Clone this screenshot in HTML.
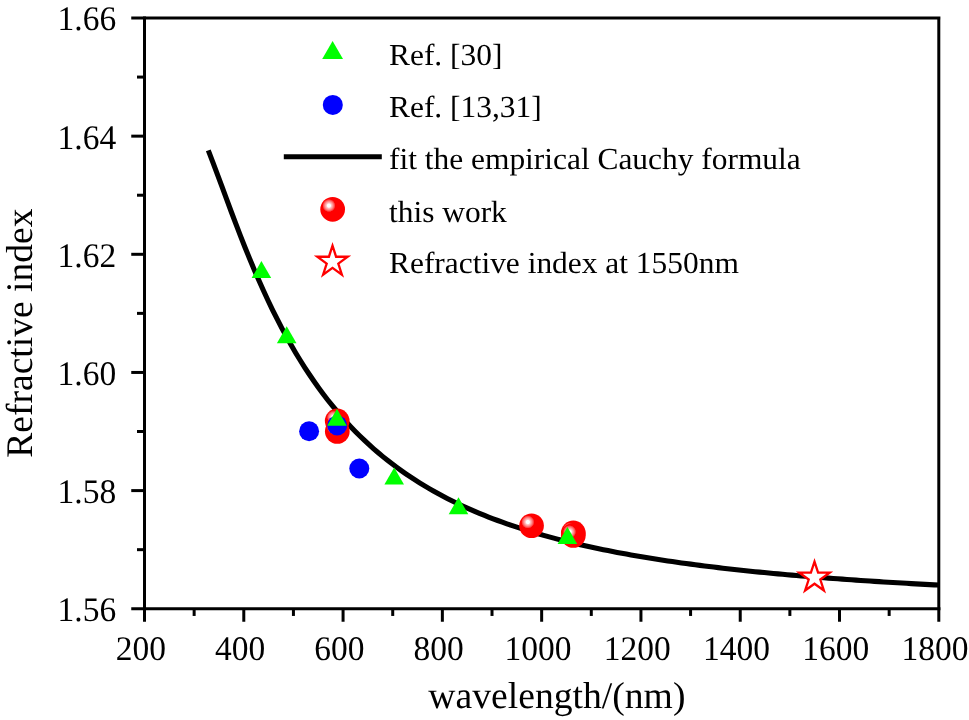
<!DOCTYPE html>
<html><head><meta charset="utf-8"><title>Refractive index</title>
<style>
html,body{margin:0;padding:0;background:#fff;}
svg{display:block;}
text{font-family:"Liberation Serif","Times New Roman",serif;text-rendering:geometricPrecision;}
</style></head><body>
<svg width="969" height="720" viewBox="0 0 969 720">
<defs>
<radialGradient id="sph" gradientUnits="objectBoundingBox" cx="0.35" cy="0.35" r="0.26" fx="0.35" fy="0.35">
<stop offset="0" stop-color="#ffffff"/>
<stop offset="0.25" stop-color="#ffffff"/>
<stop offset="0.4" stop-color="#ffc4c4"/>
<stop offset="0.62" stop-color="#ff9090"/>
<stop offset="0.82" stop-color="#ff5858"/>
<stop offset="0.96" stop-color="#ff2020"/>
<stop offset="1" stop-color="#ff0000"/>
</radialGradient>
</defs>
<rect width="969" height="720" fill="#fff"/>
<g stroke="#000" stroke-width="3.0" fill="none" stroke-linecap="butt">
<path d="M131.25,18.0 H940.4 M131.25,608.75 H940.5999999999999 M144.5,16.3 V621.75 M938.8,16.5 V621.75"/>
<path d="M137.0,549.67 H144.5"/>
<path d="M131.25,490.60 H144.5"/>
<path d="M137.0,431.52 H144.5"/>
<path d="M131.25,372.45 H144.5"/>
<path d="M137.0,313.37 H144.5"/>
<path d="M131.25,254.30 H144.5"/>
<path d="M137.0,195.22 H144.5"/>
<path d="M131.25,136.15 H144.5"/>
<path d="M137.0,77.07 H144.5"/>
<path d="M194.14,608.75 V615.95"/>
<path d="M243.79,608.75 V621.75"/>
<path d="M293.43,608.75 V615.95"/>
<path d="M343.07,608.75 V621.75"/>
<path d="M392.72,608.75 V615.95"/>
<path d="M442.36,608.75 V621.75"/>
<path d="M492.01,608.75 V615.95"/>
<path d="M541.65,608.75 V621.75"/>
<path d="M591.29,608.75 V615.95"/>
<path d="M640.94,608.75 V621.75"/>
<path d="M690.58,608.75 V615.95"/>
<path d="M740.23,608.75 V621.75"/>
<path d="M789.87,608.75 V615.95"/>
<path d="M839.51,608.75 V621.75"/>
<path d="M889.16,608.75 V615.95"/>
</g>
<g font-size="33.5" fill="#000">
<text transform="translate(116.2,621.15) scale(1,1.03)" text-anchor="end">1.56</text>
<text transform="translate(116.2,503.00) scale(1,1.03)" text-anchor="end">1.58</text>
<text transform="translate(116.2,384.85) scale(1,1.03)" text-anchor="end">1.60</text>
<text transform="translate(116.2,266.70) scale(1,1.03)" text-anchor="end">1.62</text>
<text transform="translate(116.2,148.55) scale(1,1.03)" text-anchor="end">1.64</text>
<text transform="translate(116.2,30.40) scale(1,1.03)" text-anchor="end">1.66</text>
<text transform="translate(140.80,660.3) scale(1,1.03)" text-anchor="middle">200</text>
<text transform="translate(240.09,660.3) scale(1,1.03)" text-anchor="middle">400</text>
<text transform="translate(339.38,660.3) scale(1,1.03)" text-anchor="middle">600</text>
<text transform="translate(438.66,660.3) scale(1,1.03)" text-anchor="middle">800</text>
<text transform="translate(537.95,660.3) scale(1,1.03)" text-anchor="middle">1000</text>
<text transform="translate(637.24,660.3) scale(1,1.03)" text-anchor="middle">1200</text>
<text transform="translate(736.52,660.3) scale(1,1.03)" text-anchor="middle">1400</text>
<text transform="translate(835.81,660.3) scale(1,1.03)" text-anchor="middle">1600</text>
<text transform="translate(935.10,660.3) scale(1,1.03)" text-anchor="middle">1800</text>
</g>
<text x="428.3" y="707.7" font-size="37.65">wavelength/(nm)</text>
<text transform="translate(31.8,457.7) rotate(-90)" font-size="37.55">Refractive index</text>
<path d="M208.30,150.43 L212.89,162.32 L217.49,174.57 L222.08,186.99 L226.68,199.42 L231.27,211.76 L235.87,223.91 L240.46,235.82 L245.05,247.44 L249.65,258.75 L254.24,269.71 L258.84,280.33 L263.43,290.58 L268.03,300.48 L272.62,310.03 L277.22,319.22 L281.81,328.07 L286.40,336.59 L291.00,344.78 L295.59,352.66 L300.19,360.24 L304.78,367.52 L309.38,374.52 L313.97,381.25 L318.56,387.72 L323.16,393.95 L327.75,399.94 L332.35,405.70 L336.94,411.24 L341.54,416.57 L346.13,421.71 L350.72,426.65 L355.32,431.42 L359.91,436.01 L364.51,440.43 L369.10,444.69 L373.70,448.80 L378.29,452.77 L382.88,456.60 L387.48,460.29 L392.07,463.85 L396.67,467.30 L401.26,470.63 L405.86,473.84 L410.45,476.95 L415.05,479.95 L419.64,482.86 L424.23,485.67 L428.83,488.40 L433.42,491.03 L438.02,493.58 L442.61,496.06 L447.21,498.45 L451.80,500.77 L456.39,503.02 L460.99,505.21 L465.58,507.32 L470.18,509.38 L474.77,511.37 L479.37,513.31 L483.96,515.19 L488.55,517.01 L493.15,518.79 L497.74,520.51 L502.34,522.18 L506.93,523.81 L511.53,525.40 L516.12,526.94 L520.72,528.44 L525.31,529.89 L529.90,531.31 L534.50,532.70 L539.09,534.04 L543.69,535.35 L548.28,536.63 L552.88,537.87 L557.47,539.09 L562.06,540.27 L566.66,541.42 L571.25,542.55 L575.85,543.64 L580.44,544.71 L585.04,545.76 L589.63,546.77 L594.22,547.77 L598.82,548.74 L603.41,549.69 L608.01,550.61 L612.60,551.52 L617.20,552.40 L621.79,553.26 L626.38,554.11 L630.98,554.93 L635.57,555.74 L640.17,556.53 L644.76,557.30 L649.36,558.05 L653.95,558.79 L658.55,559.51 L663.14,560.22 L667.73,560.91 L672.33,561.59 L676.92,562.25 L681.52,562.90 L686.11,563.53 L690.71,564.15 L695.30,564.76 L699.89,565.36 L704.49,565.94 L709.08,566.52 L713.68,567.08 L718.27,567.63 L722.87,568.17 L727.46,568.70 L732.05,569.22 L736.65,569.73 L741.24,570.23 L745.84,570.72 L750.43,571.20 L755.03,571.67 L759.62,572.13 L764.22,572.58 L768.81,573.03 L773.40,573.47 L778.00,573.89 L782.59,574.32 L787.19,574.73 L791.78,575.14 L796.38,575.53 L800.97,575.93 L805.56,576.31 L810.16,576.69 L814.75,577.06 L819.35,577.43 L823.94,577.79 L828.54,578.14 L833.13,578.49 L837.72,578.83 L842.32,579.16 L846.91,579.49 L851.51,579.81 L856.10,580.13 L860.70,580.45 L865.29,580.75 L869.88,581.06 L874.48,581.36 L879.07,581.65 L883.67,581.94 L888.26,582.22 L892.86,582.50 L897.45,582.78 L902.05,583.05 L906.64,583.31 L911.23,583.58 L915.83,583.83 L920.42,584.09 L925.02,584.34 L929.61,584.59 L934.21,584.83 L938.80,585.07" stroke="#000" stroke-width="5.1" fill="none" stroke-linejoin="round"/>
<path d="M283.8,156.8 H381.8" stroke="#000" stroke-width="5" fill="none"/>
<circle cx="337.20" cy="420.90" r="12.35" fill="url(#sph)"/>
<circle cx="337.30" cy="431.40" r="12.35" fill="url(#sph)"/>
<circle cx="531.55" cy="525.75" r="12.35" fill="url(#sph)"/>
<circle cx="573.30" cy="532.90" r="12.35" fill="url(#sph)"/>
<circle cx="573.30" cy="535.40" r="12.35" fill="url(#sph)"/>
<circle cx="337.20" cy="425.40" r="10.0" fill="#0000ff"/>
<circle cx="309.10" cy="431.20" r="10.0" fill="#0000ff"/>
<circle cx="359.30" cy="468.50" r="10.0" fill="#0000ff"/>
<path d="M261.40,261.10 L271.20,278.10 L251.60,278.10 Z" fill="#00ff00"/>
<path d="M286.70,326.20 L296.50,343.20 L276.90,343.20 Z" fill="#00ff00"/>
<path d="M337.00,408.70 L346.80,425.70 L327.20,425.70 Z" fill="#00ff00"/>
<path d="M394.20,467.50 L404.00,484.50 L384.40,484.50 Z" fill="#00ff00"/>
<path d="M458.50,497.20 L468.30,514.20 L448.70,514.20 Z" fill="#00ff00"/>
<path d="M567.40,527.00 L577.20,544.00 L557.60,544.00 Z" fill="#00ff00"/>
<polygon points="814.50,561.60 818.09,572.66 829.72,572.66 820.31,579.49 823.90,590.54 814.50,583.71 805.10,590.54 808.69,579.49 799.28,572.66 810.91,572.66" fill="#fff" stroke="#ff0000" stroke-width="2.3" stroke-miterlimit="10"/>
<path d="M332.60,41.10 L343.00,58.90 L322.20,58.90 Z" fill="#00ff00"/>
<circle cx="332.80" cy="104.90" r="10" fill="#0000ff"/>
<circle cx="332.65" cy="209.30" r="12.35" fill="url(#sph)"/>
<polygon points="332.50,245.70 336.09,256.76 347.72,256.76 338.31,263.59 341.90,274.64 332.50,267.81 323.10,274.64 326.69,263.59 317.28,256.76 328.91,256.76" fill="#fff" stroke="#ff0000" stroke-width="2.3" stroke-miterlimit="10"/>
<g font-size="30.5" fill="#000">
<text transform="translate(389,64.7) scale(1.03,1)">Ref. [30]</text>
<text transform="translate(389,116.9) scale(1.03,1)">Ref. [13,31]</text>
<text transform="translate(389,169.4) scale(1.03,1)">fit the empirical Cauchy formula</text>
<text transform="translate(389,221.7) scale(1.03,1)">this work</text>
<text transform="translate(389,273.4) scale(1.03,1)">Refractive index at 1550nm</text>
</g>
</svg>
</body></html>
